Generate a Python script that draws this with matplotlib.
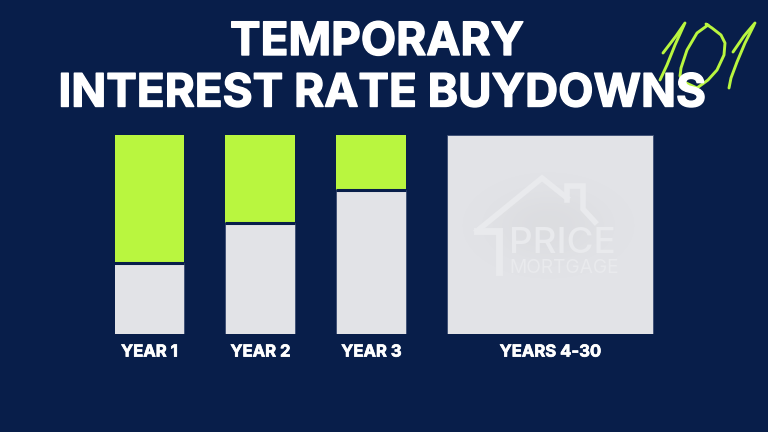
import numpy as np
import matplotlib
matplotlib.use("Agg")
import matplotlib.pyplot as plt
import matplotlib.patheffects as pe

# bar data, share of full payment per period
categories = ["YEAR 1", "YEAR 2", "YEAR 3", "YEARS 4-30"]
paid = [0.355, 0.555, 0.72, 1.0]
bought_down = [0.645, 0.445, 0.28, 0.0]

BG = "#081E4A"
GREEN = "#B9F63F"
GREY = "#E2E3E7"
W, H = 768, 432

fig = plt.figure(figsize=(W / 100, H / 100), dpi=100, facecolor=BG)

# bars: axes sits exactly on the pixel box of the bars
ax = fig.add_axes([115 / W, 1 - 333.5 / H, (653.5 - 115) / W, (333.5 - 134.5) / H])
ax.set_facecolor("none")
centers = [149.5, 260.5, 371.5, 550.5]
widths = [70, 70, 70, 206]
bar_x = [c - 0.5 for c in centers]
ax.bar(bar_x, paid, width=widths, color=GREY, edgecolor="#3A4C72", linewidth=0.6, zorder=2)
ax.bar(bar_x, bought_down, bottom=paid, width=widths, color=GREEN, linewidth=0.0, zorder=2)
ax.hlines(paid[:3], [c - 35 for c in bar_x[:3]], [c + 35 for c in bar_x[:3]], color=BG, linewidth=2.2, zorder=3)
ax.set_xlim(115, 653.5)
ax.set_ylim(0, 1)
ax.set_yticks([])
ax.set_xticks(centers)
labels = ax.set_xticklabels(categories, fontsize=12, fontweight="bold", color="white", family="Inter")
for t in labels:
    t.set_path_effects([pe.withStroke(linewidth=0.5, foreground="white")])
ax.tick_params(axis="x", length=0, pad=8)
for s in ax.spines.values():
    s.set_visible(False)

# overlay in pixel coordinates for title, logo and the scribble
ov = fig.add_axes([0, 0, 1, 1], zorder=5)
ov.axis("off")
ov.patch.set_alpha(0)

# soft shadow behind the logo
yy, xx = np.mgrid[0:120, 0:180]
glow = np.exp(-(((xx - 90) / 55) ** 2 + ((yy - 60) / 34) ** 2) ** 1.4)
rgba = np.zeros((120, 180, 4))
rgba[..., :3] = 0.72
rgba[..., 3] = glow * 0.13
ov.imshow(rgba, extent=(458, 638, 285, 165), zorder=1, aspect="auto", interpolation="bilinear")
ov.set_xlim(0, W)
ov.set_ylim(H, 0)

LOGO = "#E9EAED"
ov.plot([477, 542, 567], [231, 178, 198], color=LOGO, lw=4, solid_joinstyle="miter", zorder=2)
ov.plot([567, 567, 583, 583, 595], [200, 186, 186, 209, 222], color=LOGO, lw=4, solid_joinstyle="miter", zorder=2)
ov.plot([477, 499, 499], [231, 231, 272], color=LOGO, lw=5, solid_joinstyle="miter", zorder=2)
ov.text(509, 253, "PRICE", fontsize=26.5, family="Inter", fontweight="medium", color=LOGO, va="baseline", ha="left", zorder=2)
ov.text(509, 273, "MORTGAGE", fontsize=13.8, family="Inter", fontweight="normal", color=LOGO, va="baseline", ha="left", zorder=2)

# hand written 101
strokes = [
    ([685, 676, 663], [23, 36, 53]),
    ([684, 675, 667, 660], [25, 45, 65, 80]),
    ([708, 697, 687, 681, 680, 684, 697, 708, 717, 724, 725, 721, 712, 706],
     [25, 33, 50, 68, 76, 82, 88, 80, 70, 55, 43, 35, 28, 24]),
    ([755, 744, 733], [23, 36, 52]),
    ([754, 745, 737, 731, 729], [25, 43, 62, 78, 88]),
]
for sx, sy in strokes:
    ov.plot(sx, sy, color=GREEN, lw=2.1, solid_capstyle="round", zorder=3)

stroke = [pe.withStroke(linewidth=1.0, foreground="white")]
ov.text(377, 55, "TEMPORARY", fontsize=33, fontweight="bold", family="Inter", color="white",
        ha="center", va="baseline", zorder=4, path_effects=stroke)
ov.text(382, 106.5, "INTEREST RATE BUYDOWNS", fontsize=33, fontweight="bold", family="Inter", color="white",
        ha="center", va="baseline", zorder=4, path_effects=stroke)

fig.savefig("out.png", dpi=100, facecolor=BG)
